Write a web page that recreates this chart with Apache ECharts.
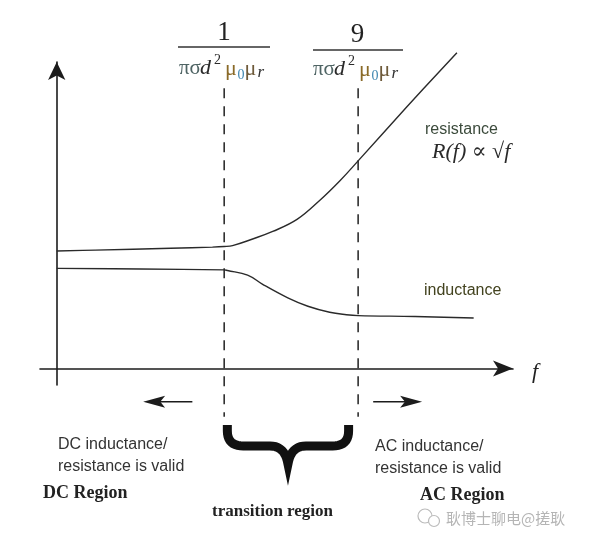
<!DOCTYPE html>
<html><head><meta charset="utf-8">
<script src="https://cdn.jsdelivr.net/npm/echarts@6/dist/echarts.min.js"></script>
<style>html,body{margin:0;padding:0;background:#fff}#c{width:600px;height:546px}</style>
</head><body><div id="c"></div>
<script>
// ---- data (arbitrary frequency / magnitude units) ----
const resistanceX = [0, 23, 68, 93, 100, 105, 117, 129, 143.5, 157, 169, 180, 209, 239];
const resistanceY = [39.1, 39.4, 40.0, 40.4, 40.6, 40.9, 43.1, 45.6, 49.6, 55.9, 62.4, 69.1, 87.0, 105.1];
const inductanceX = [0, 50, 100, 102, 114, 123, 138, 150, 163, 173, 180, 214, 249];
const inductanceY = [33.3, 33.1, 32.8, 32.6, 31.1, 28.0, 23.5, 20.7, 18.7, 17.9, 17.6, 17.3, 16.8];
// boundaries: 1/(πσd²μ0μr) and 9/(πσd²μ0μr)
const transitionX = [100, 180];
const fractionNumerators = ['1', '9'];
// region arrows (tail, tip) and brace span, in frequency units
const regionArrows = [[81, 51.6], [189, 218.2]];
const braceSpan = [[99.2, 177]];
const labelsDC = ['DC inductance/', 'resistance is valid', 'DC Region'];
const labelsAC = ['AC inductance/', 'resistance is valid', 'AC Region'];

const chart = echarts.init(document.getElementById('c'), null, {renderer: 'canvas'});
const INK = '#1c1c1c';
const SERIF = '"Liberation Serif","DejaVu Serif",serif';
const SANS = '"Liberation Sans",Arial,sans-serif';

function txt(x, y, text, opt) {
  return {type: 'text', x: x, y: y, silent: true,
    style: Object.assign({text: text, fill: '#333', fontFamily: SANS, fontSize: 16,
      align: 'left', verticalAlign: 'middle'}, opt || {})};
}
function denominator(x0, y0) {
  const P = [
    [0, 0, 'π', {fill: '#4f6464'}],
    [10.5, 0, 'σ', {fill: '#4f6464'}],
    [21, 0, 'd', {fill: '#2a2a2a', fontStyle: 'italic', fontSize: 22}],
    [35, -8, '2', {fill: '#2a2a2a', fontSize: 14}],
    [46, 1, 'μ', {fill: '#8a6a28', fontSize: 22}],
    [58.5, 7, '0', {fill: '#3f86b0', fontSize: 14}],
    [65.5, 1, 'μ', {fill: '#6e5a3a', fontSize: 22}],
    [78.5, 5, 'r', {fill: '#333', fontStyle: 'italic', fontSize: 17}]
  ];
  return P.map(p => txt(x0 + p[0], y0 + p[1], p[2], Object.assign({fontFamily: SERIF, fontSize: 21}, p[3])));
}

const graphics = [];
// fraction 1
graphics.push(txt(224, 33, fractionNumerators[0], {fontFamily: SERIF, fontSize: 27, align: 'center', fill: '#222'}));
graphics.push({type: 'line', silent: true, shape: {x1: 178, y1: 47, x2: 270, y2: 47}, style: {stroke: '#333', lineWidth: 1.5}});
graphics.push(...denominator(179, 68));
// fraction 2
graphics.push(txt(357.5, 35, fractionNumerators[1], {fontFamily: SERIF, fontSize: 27, align: 'center', fill: '#222'}));
graphics.push({type: 'line', silent: true, shape: {x1: 313, y1: 50, x2: 403, y2: 50}, style: {stroke: '#333', lineWidth: 1.5}});
graphics.push(...denominator(313, 69));
// curve labels
graphics.push(txt(425, 130, 'resistance', {fill: '#3b4a3b'}));
graphics.push({type: 'text', x: 432, y: 152, silent: true, style: {
  text: '{i|R(f)}{u| ∝ √}{i|f}', align: 'left', verticalAlign: 'middle',
  rich: {i: {fontFamily: SERIF, fontStyle: 'italic', fontSize: 22, fill: '#2a2a2a'},
         u: {fontFamily: SERIF, fontSize: 22, fill: '#2a2a2a'}}}});
graphics.push(txt(424, 291, 'inductance', {fill: '#43431f'}));
// axis label f
graphics.push(txt(535, 372, 'f', {fontFamily: SERIF, fontStyle: 'italic', fontSize: 22, align: 'center', fill: '#222'}));
// region notes
graphics.push(txt(58, 445, labelsDC[0]));
graphics.push(txt(58, 467, labelsDC[1]));
graphics.push(txt(43, 493, labelsDC[2], {fontFamily: SERIF, fontWeight: 'bold', fontSize: 18, fill: '#222'}));
graphics.push(txt(212, 512, 'transition region', {fontFamily: SERIF, fontWeight: 'bold', fontSize: 17, fill: '#222'}));
graphics.push(txt(375, 447, labelsAC[0]));
graphics.push(txt(375, 469, labelsAC[1]));
graphics.push(txt(420, 495, labelsAC[2], {fontFamily: SERIF, fontWeight: 'bold', fontSize: 18, fill: '#222'}));
// watermark
graphics.push({type: 'circle', silent: true, shape: {cx: 425, cy: 516, r: 7}, style: {fill: 'none', stroke: '#bbb', lineWidth: 1.2}});
graphics.push({type: 'circle', silent: true, shape: {cx: 434, cy: 521, r: 5.5}, style: {fill: '#fff', stroke: '#bbb', lineWidth: 1.2}});
graphics.push(txt(446, 518, '耿博士聊电@搓耿', {fontFamily: '"Noto Sans CJK SC",sans-serif', fontSize: 15, fill: '#b5b5b5'}));

const axisCommon = {type: 'value', axisTick: {show: false}, axisLabel: {show: false}, splitLine: {show: false}};

const option = {
  animation: false,
  backgroundColor: '#fff',
  grid: {left: 40, right: 87, top: 62, bottom: 161},
  xAxis: Object.assign({}, axisCommon, {min: -10, max: 272.5,
    axisLine: {show: true, onZero: true, symbol: ['none', 'arrow'], symbolSize: [12, 20], lineStyle: {color: INK, width: 1.6}}}),
  yAxis: Object.assign({}, axisCommon, {min: -5.5, max: 102,
    axisLine: {show: true, onZero: true, symbol: ['none', 'arrow'], symbolSize: [13, 18], lineStyle: {color: INK, width: 1.6}}}),
  graphic: graphics,
  series: [
    {type: 'line', name: 'resistance', data: resistanceX.map((x, i) => [x, resistanceY[i]]),
     smooth: 0.4, showSymbol: false, clip: false, silent: true,
     lineStyle: {color: '#2a2a2a', width: 1.4}},
    {type: 'line', name: 'inductance', data: inductanceX.map((x, i) => [x, inductanceY[i]]),
     smooth: 0.4, showSymbol: false, clip: false, silent: true,
     lineStyle: {color: '#2a2a2a', width: 1.4}},
    {type: 'custom', name: 'boundaries', clip: false, silent: true,
     data: transitionX.map(x => [x, 0]),
     renderItem: function (params, api) {
       const x = api.value(0);
       const p1 = api.coord([x, 93.3]), p2 = api.coord([x, -16.1]);
       return {type: 'line', shape: {x1: p1[0], y1: p1[1], x2: p2[0], y2: p2[1]},
         style: {stroke: '#222', lineWidth: 1.5, lineDash: [10, 8]}};
     }},
    {type: 'custom', name: 'regionArrows', clip: false, silent: true,
     data: regionArrows,
     renderItem: function (params, api) {
       const tail = api.coord([api.value(0), -11.1]);
       const tip = api.coord([api.value(1), -11.1]);
       const d = tip[0] > tail[0] ? 1 : -1, hl = 22, hw = 6, y = tip[1];
       return {type: 'group', children: [
         {type: 'line', shape: {x1: tail[0], y1: y, x2: tip[0] - d * hl * 0.7, y2: y}, style: {stroke: INK, lineWidth: 1.5}},
         {type: 'polygon', shape: {points: [[tip[0], y], [tip[0] - d * hl, y - hw], [tip[0] - d * hl * 0.78, y], [tip[0] - d * hl, y + hw]]},
          style: {fill: INK}}
       ]};
     }},
    {type: 'custom', name: 'brace', clip: false, silent: true,
     data: braceSpan,
     renderItem: function (params, api) {
       const a = api.coord([api.value(0), -18.8]);
       const b = api.coord([api.value(1), -18.8]);
       const L = a[0], R = b[0], T = a[1], M = (L + R) / 2;
       const w = 9, hy = T + 21;
       const pts = [];
       function quad(p0, c, p1, n) {
         for (let i = 1; i <= n; i++) {
           const t = i / n;
           pts.push([(1 - t) * (1 - t) * p0[0] + 2 * (1 - t) * t * c[0] + t * t * p1[0],
                     (1 - t) * (1 - t) * p0[1] + 2 * (1 - t) * t * c[1] + t * t * p1[1]]);
         }
       }
       const xl = L + w / 2, xr = R - w / 2;
       pts.push([xl, T], [xl, T + 6]);
       quad([xl, T + 6], [xl, hy], [xl + 16, hy], 10);
       pts.push([M - 18, hy]);
       quad([M - 18, hy], [M - 3, hy], [M, hy + 18], 10);
       quad([M, hy + 18], [M + 3, hy], [M + 18, hy], 10);
       pts.push([xr - 16, hy]);
       quad([xr - 16, hy], [xr, hy], [xr, T + 6], 10);
       pts.push([xr, T]);
       return {type: 'polyline', shape: {points: pts},
         style: {stroke: '#111', lineWidth: w, fill: 'none', lineJoin: 'miter', miterLimit: 10, lineCap: 'butt'}};
     }}
  ]
};
chart.setOption(option);
</script></body></html>
